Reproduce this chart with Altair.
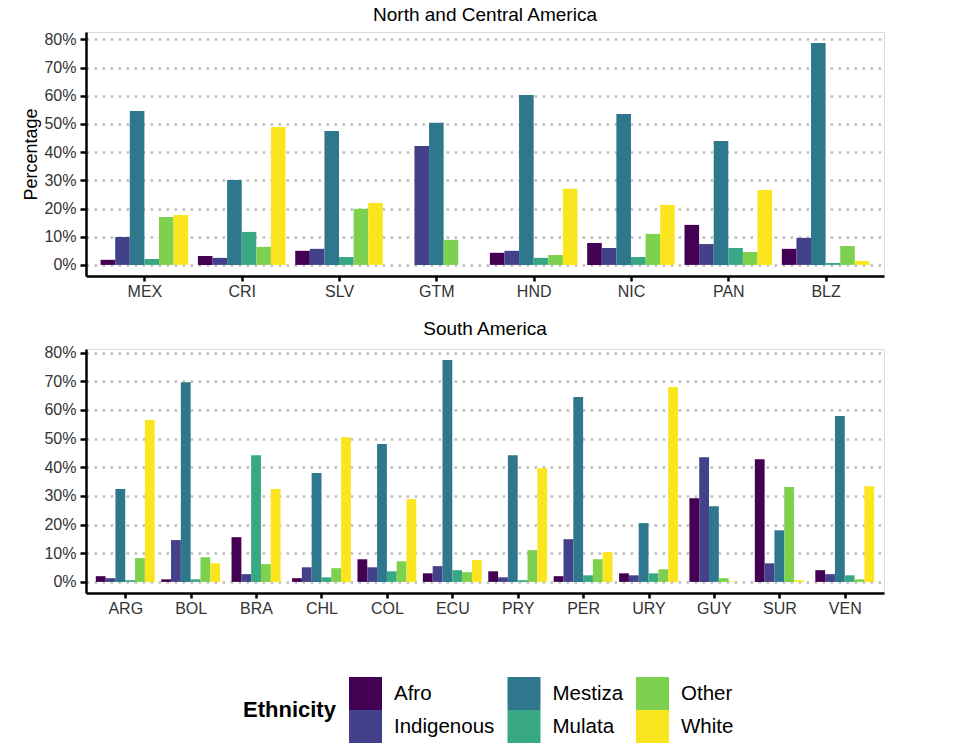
import json
import altair as alt
import pandas as pd

# Share of population by self-reported ethnicity (percent)
ethnicities = ["Afro", "Indigenous", "Mestiza", "Mulata", "Other", "White"]
palette = ["#440154", "#43418A", "#2E778D", "#38A884", "#7DD14E", "#FBE51F"]

na_countries = ["MEX", "CRI", "SLV", "GTM", "HND", "NIC", "PAN", "BLZ"]
na_afro = [1.8, 3.2, 5.0, None, 4.3, 7.8, 14.2, 5.7]
na_indigenous = [9.9, 2.5, 5.7, 42.2, 5.0, 6.0, 7.4, 9.6]
na_mestiza = [54.6, 30.1, 47.5, 50.4, 60.3, 53.5, 44.0, 78.7]
na_mulata = [2.1, 11.7, 2.8, None, 2.5, 2.8, 6.0, 0.7]
na_other = [17.0, 6.4, 19.9, 8.9, 3.5, 11.0, 4.6, 6.7]
na_white = [17.7, 48.9, 22.0, None, 27.0, 21.3, 26.6, 1.4]

sa_countries = ["ARG", "BOL", "BRA", "CHL", "COL", "ECU",
                "PRY", "PER", "URY", "GUY", "SUR", "VEN"]
sa_afro = [2.0, 0.9, 15.6, 1.3, 7.9, 3.0, 3.7, 2.0, 3.0, 29.2, 42.8, 4.1]
sa_indigenous = [1.3, 14.6, 2.7, 5.1, 5.1, 5.5, 1.6, 14.9, 2.3, 43.5, 6.5, 2.7]
sa_mestiza = [32.4, 69.7, None, 38.0, 48.1, 77.4, 44.2, 64.5, 20.5, 26.4, 18.0, 57.9]
sa_mulata = [0.6, 0.9, 44.2, 1.6, 3.7, 4.1, 0.6, 2.3, 3.0, None, None, 2.3]
sa_other = [8.3, 8.6, 6.2, 4.8, 7.2, 3.4, 11.1, 7.9, 4.4, 1.3, 33.1, 0.9]
sa_white = [56.5, 6.5, 32.4, 50.5, 28.9, 7.6, 39.7, 10.4, 68.0, 0.2, 0.6, 33.4]

y_ticks = [0, 10, 20, 30, 40, 50, 60, 70, 80]

FONT = "Liberation Sans"
BAR = 0.15          # width of one bar in category units (dodge width 0.9 / 6)
PANEL_W = 798
PANEL_H = 244


def long_table(countries, series):
    rows = []
    for eth, vals in zip(ethnicities, series):
        for c, v in zip(countries, vals):
            if v is not None:
                rows.append({"country": c, "ethnicity": eth, "value": v})
    return pd.DataFrame(rows)


def panel(df, countries, title, y_title, show_legend):
    n = len(countries)
    eth_js = json.dumps(ethnicities)
    cty_js = json.dumps(countries)
    vmax = df["value"].max()
    y_dom = [-0.05 * vmax, 1.05 * vmax]

    y_axis = dict(
        values=y_ticks,
        labelExpr="datum.value + '%'",
        grid=True,
        gridColor="#BEBEBE",
        gridDash=[2.7, 5.3],
        gridWidth=2.7,
        domainColor="black",
        domainWidth=2.5,
        tickColor="black",
        tickWidth=2.5,
        tickSize=6,
        labelPadding=4,
        labelFontSize=16,
        labelColor="#333333",
        labelFont=FONT,
    )
    if y_title:
        y_axis.update(title=y_title, titleFontSize=18, titleFont=FONT,
                      titleFontWeight="normal", titleColor="black",
                      titlePadding=3)
    else:
        y_axis.update(title=None)

    legend = None
    if show_legend:
        # two rows, filled column by column
        legend = alt.Legend(
            title="Ethnicity",
            orient="none",
            legendX=157,
            legendY=645,
            direction="vertical",
            columns=3,
            symbolType="square",
            symbolSize=1089,
            symbolStrokeWidth=0,
            symbolOpacity=1,
            rowPadding=0,
            columnPadding=12.5,
            labelOffset=12,
            labelFontSize=20.5,
            labelFont=FONT,
            labelColor="black",
            titleFontSize=22,
            titleFont=FONT,
            titleFontWeight="bold",
            titleColor="black",
            titleOrient="left",
            titleAnchor="middle",
            titleBaseline="middle",
            titlePadding=13,
        )

    return (
        alt.Chart(df)
        .transform_calculate(
            eth_order=f"indexof({eth_js}, datum.ethnicity)",
            cidx=f"indexof({cty_js}, datum.country) + 1",
        )
        .transform_window(
            slot="row_number()",
            groupby=["country"],
            sort=[alt.SortField("eth_order")],
        )
        .transform_joinaggregate(nbars="count()", groupby=["country"])
        .transform_calculate(
            xmid=f"datum.cidx + (datum.slot - 1 - (datum.nbars - 1) / 2) * {BAR}"
        )
        .transform_calculate(
            x0=f"datum.xmid - {BAR / 2}",
            x1=f"datum.xmid + {BAR / 2}",
        )
        .mark_bar(strokeWidth=0)
        .encode(
            x=alt.X(
                "x0:Q",
                scale=alt.Scale(domain=[0.4, n + 0.6], nice=False, zero=False),
                axis=alt.Axis(
                    values=list(range(1, n + 1)),
                    labelExpr=f"{cty_js}[datum.value - 1]",
                    title=None,
                    grid=False,
                    domainColor="black",
                    domainWidth=2.5,
                    tickColor="black",
                    tickWidth=2.5,
                    tickSize=5,
                    labelPadding=2,
                    labelFontSize=16,
                    labelColor="#333333",
                    labelFont=FONT,
                    labelFlush=False,
                ),
            ),
            x2="x1:Q",
            y=alt.Y("value:Q",
                    scale=alt.Scale(domain=y_dom, nice=False, zero=False),
                    axis=alt.Axis(**y_axis)),
            y2=alt.datum(0),
            color=alt.Color(
                "ethnicity:N",
                scale=alt.Scale(domain=ethnicities, range=palette),
                legend=legend,
            ),
        )
        .properties(
            width=PANEL_W,
            height=PANEL_H,
            title=alt.TitleParams(
                title, fontSize=19, font=FONT, fontWeight="normal",
                color="black", anchor="middle", frame="group",
                baseline="bottom", offset=-13,
            ),
        )
    )


na_df = long_table(na_countries, [na_afro, na_indigenous, na_mestiza,
                                  na_mulata, na_other, na_white])
sa_df = long_table(sa_countries, [sa_afro, sa_indigenous, sa_mestiza,
                                  sa_mulata, sa_other, sa_white])

top = panel(na_df, na_countries, "North and Central America", "Percentage", True)
bottom = panel(sa_df, sa_countries, "South America", None, False)

chart = (
    alt.vconcat(top, bottom, spacing=19)
    .resolve_scale(x="independent", y="independent", color="shared")
    .properties(padding={"left": 22, "top": 5, "right": 10, "bottom": 10})
    .configure_view(strokeWidth=0, stroke="transparent")
    .configure(background="white")
)

chart.save("out.html", embed_options={"renderer": "svg", "actions": False})
